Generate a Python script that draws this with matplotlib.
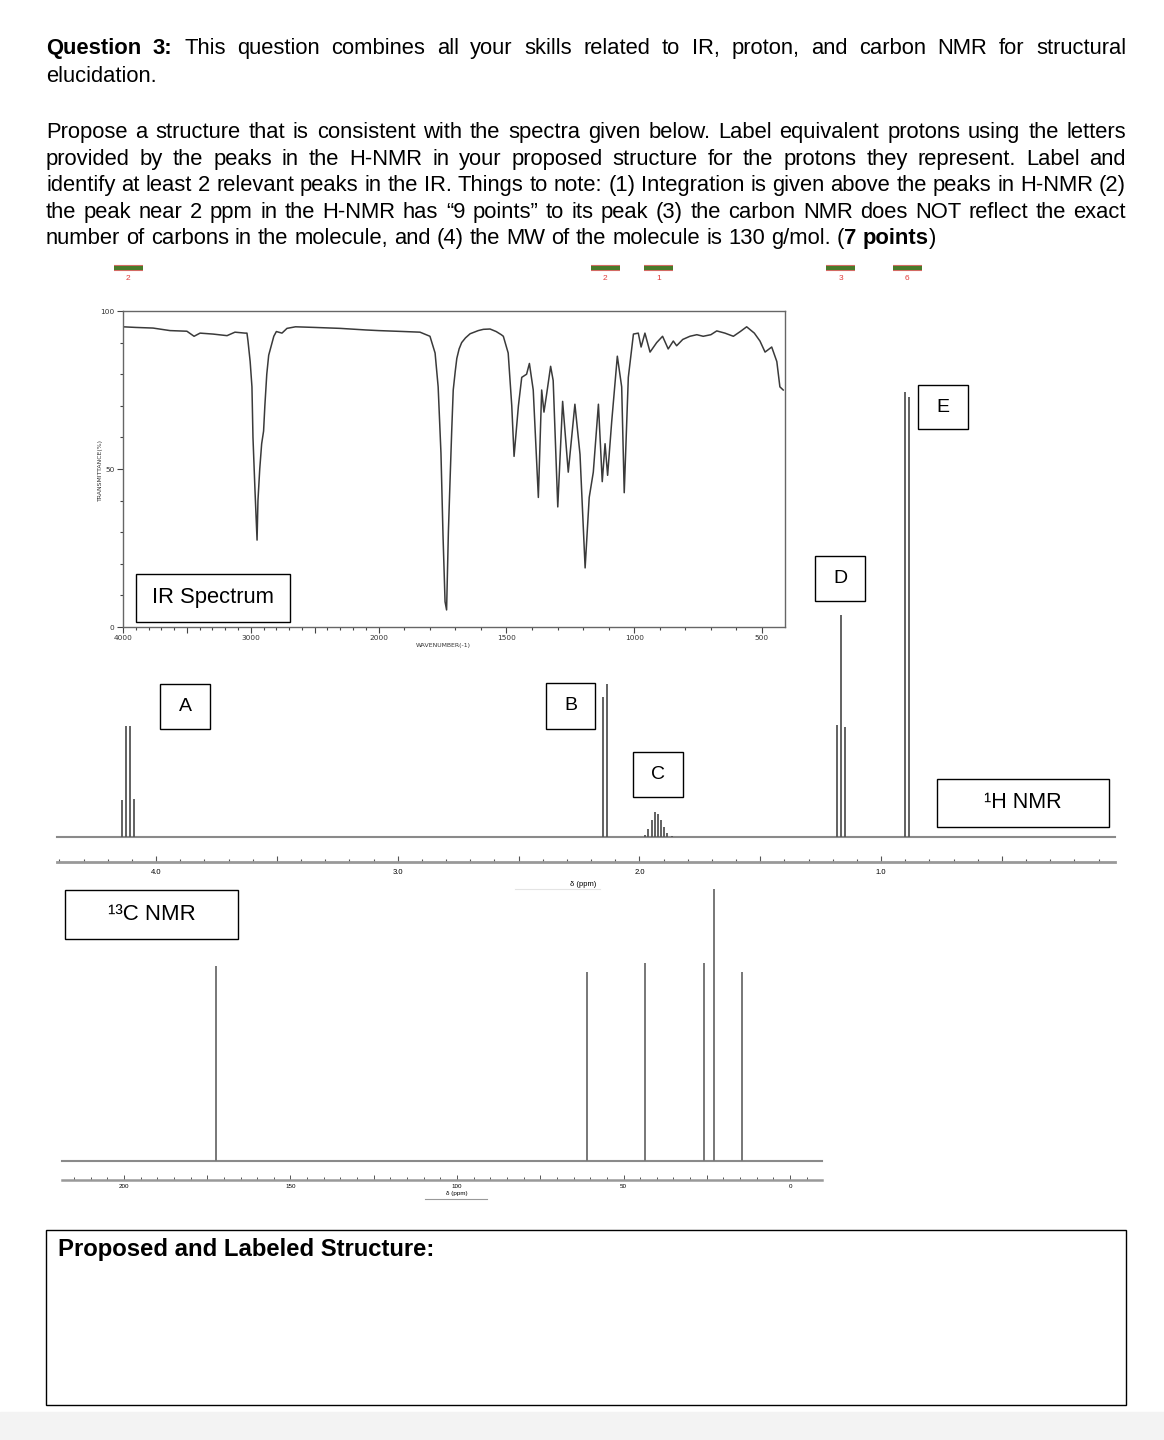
import numpy as np
import matplotlib
matplotlib.use('Agg')
import matplotlib.pyplot as plt
import matplotlib.transforms as mtransforms
import matplotlib.patheffects as pe
from matplotlib.patches import Rectangle
from matplotlib.ticker import FixedLocator, MultipleLocator, FuncFormatter

plt.rcParams['font.family'] = ['Liberation Sans', 'DejaVu Sans']

# IR spectrum: wavenumber (cm-1) and transmittance (%)
ir_wavenumber = [4000, 3900, 3765, 3632, 3500, 3444, 3397, 3296, 3186, 3124, 3045, 3030, 3022,
                 3005, 2991, 2983, 2967, 2951, 2944, 2930, 2915, 2900, 2890, 2875, 2860, 2840,
                 2820, 2800, 2756, 2717, 2650, 2500, 2300, 2100, 2000, 1900, 1838, 1799, 1779,
                 1767, 1756, 1748, 1740, 1734, 1727, 1721, 1714, 1708, 1700, 1694, 1685, 1675,
                 1660, 1642, 1610, 1590, 1564, 1540, 1520, 1512, 1493, 1479, 1470, 1453, 1440,
                 1421, 1410, 1395, 1375, 1362, 1353, 1342, 1327, 1317, 1299, 1280, 1258, 1232,
                 1212, 1192, 1176, 1160, 1140, 1125, 1114, 1104, 1088, 1066, 1049, 1039, 1023,
                 1003, 984, 973, 958, 938, 912, 889, 867, 847, 834, 810, 782, 755, 730, 700,
                 677, 645, 612, 585, 560, 530, 508, 488, 462, 442, 430, 417]
ir_transmittance = [95, 94.8, 94.6, 93.8, 93.6, 92, 93, 92.7, 92.2, 93.3, 93, 93, 90.5,
                    84, 76, 60, 43, 27.5, 40, 50, 58, 62, 70, 80, 86, 89,
                    92, 93.5, 93, 94.5, 95, 94.8, 94.5, 94, 93.8, 93.5, 93.3, 92, 86.7,
                    76, 55, 29, 8, 5.4, 30, 45, 62, 75, 81, 85, 88, 90,
                    91.5, 92.8, 93.8, 94.2, 94.3, 93.5, 92.5, 92, 86.7, 70, 54, 70, 79,
                    80, 83.4, 75, 41, 75, 68, 74, 82.5, 78, 38, 71.4, 49, 70.5,
                    54.6, 18.7, 41, 49, 70.5, 46, 58, 48, 65, 85.7, 76, 42.5, 79,
                    92.7, 93, 88.6, 93, 87, 90, 92, 88, 90.5, 89, 91, 92, 92.5, 92, 92.5,
                    93.7, 93, 92, 93.5, 95, 93, 90.5, 87, 88.6, 84, 76, 75]

# 1H NMR: letters, integrations, line positions (ppm) and line heights
h_labels = ['A', 'B', 'C', 'D', 'E']
h_integration = [2, 2, 1, 3, 6]
h_lines_ppm = [
    [4.142, 4.124, 4.108, 4.090],
    [2.149, 2.133],
    [1.977, 1.963, 1.949, 1.935, 1.924, 1.910, 1.898, 1.884, 1.866],
    [1.183, 1.166, 1.149],
    [0.901, 0.884],
]
h_lines_height = [
    [37, 111, 111, 38],
    [140, 153],
    [2, 8, 17, 25, 23, 17, 10, 4, 1],
    [112, 222, 110],
    [445, 440],
]

# 13C NMR peaks
c_ppm = [172.4, 61.0, 43.5, 25.8, 22.8, 14.4]
c_height = [195, 189, 198, 198, 272, 189]

W, H = 1164, 1440
fig = plt.figure(figsize=(W / 100, H / 100), dpi=100)
fig.patch.set_facecolor('white')
# pixel coordinates, origin at top left
pxT = mtransforms.Affine2D().scale(1 / W, -1 / H).translate(0, 1) + fig.transFigure
renderer = fig.canvas.get_renderer()


def px_axes(x0, y0, x1, y1):
    return fig.add_axes([x0 / W, 1 - y1 / H, (x1 - x0) / W, (y1 - y0) / H])


def px_box(x0, y0, x1, y1, label=None, size=14):
    fig.add_artist(Rectangle((x0, y0), x1 - x0, y1 - y0, transform=pxT, facecolor='white',
                             edgecolor='black', lw=1.0, zorder=5))
    if label:
        fig.text((x0 + x1) / 2, (y0 + y1) / 2, label, transform=pxT, fontsize=size,
                 ha='center', va='center', zorder=6)


# ---------------- question text ----------------
BODY = 15.85
TEXT_L, TEXT_R = 46, 1126


def text_width(s, size, weight):
    t = fig.text(0, 0, s, fontsize=size, fontweight=weight)
    w = t.get_window_extent(renderer).width
    t.remove()
    return w


space_w = text_width('a a', BODY, 'normal') - text_width('aa', BODY, 'normal')


def words(s, bold=False):
    return [(w, bold, False) for w in s.split()]


def put_line(tokens, y, justify=True):
    widths = [text_width(t, BODY, 'bold' if b else 'normal') for t, b, g in tokens]
    n_gaps = sum(1 for i, tok in enumerate(tokens) if i > 0 and not tok[2])
    gap = (TEXT_R - TEXT_L - sum(widths)) / n_gaps if (justify and n_gaps) else space_w
    x = TEXT_L
    for i, ((t, b, g), w) in enumerate(zip(tokens, widths)):
        if i > 0 and not g:
            x += gap
        fig.text(x, y, t, transform=pxT, fontsize=BODY, fontweight='bold' if b else 'normal',
                 ha='left', va='baseline')
        x += w


put_line(words('Question 3:', True) + words('This question combines all your skills related to '
                                              'IR, proton, and carbon NMR for structural'), 54)
put_line(words('elucidation.'), 82, justify=False)
put_line(words('Propose a structure that is consistent with the spectra given below. Label '
               'equivalent protons using the letters'), 138)
put_line(words('provided by the peaks in the H-NMR in your proposed structure for the protons '
               'they represent. Label and'), 165)
put_line(words('identify at least 2 relevant peaks in the IR. Things to note: (1) Integration '
               'is given above the peaks in H-NMR (2)'), 191)
put_line(words('the peak near 2 ppm in the H-NMR has \u201c9 points\u201d to its peak (3) the '
               'carbon NMR does NOT reflect the exact'), 218)
put_line(words('number of carbons in the molecule, and (4) the MW of the molecule is 130 g/mol.')
         + [('(', False, False), ('7', True, True), ('points', True, False), (')', False, True)],
         244, justify=False)

# ---------------- IR spectrum ----------------
def ir_fwd(x):
    x = np.asarray(x, float)
    return np.where(x > 2000, 2000 + (x - 2000) / 2, x)


def ir_inv(y):
    y = np.asarray(y, float)
    return np.where(y > 2000, 2000 + (y - 2000) * 2, y)


ax_ir = px_axes(123, 311, 785, 627)
ax_ir.set_xscale('function', functions=(ir_fwd, ir_inv))
ax_ir.plot(ir_wavenumber, ir_transmittance, color='#3a3a3a', lw=1.1)
ax_ir.set_xlim(4000, 410)
ax_ir.set_ylim(0, 100)
ax_ir.set_xticks([4000, 3500, 3000, 2500, 2000, 1500, 1000, 500])
ax_ir.set_xticklabels(['4000', '', '3000', '', '2000', '1500', '1000', '500'])
ax_ir.xaxis.set_minor_locator(FixedLocator(np.arange(500, 4000, 100)))
ax_ir.set_yticks([0, 50, 100])
ax_ir.set_yticklabels(['0', '50', '100'])
ax_ir.yaxis.set_minor_locator(MultipleLocator(10))
ax_ir.tick_params(which='both', direction='out', color='#444', width=0.8,
                  labelsize=5.3, labelcolor='#333', pad=2)
ax_ir.tick_params(which='major', length=4)
ax_ir.tick_params(which='minor', length=2.5)
for lab in ax_ir.get_xticklabels() + ax_ir.get_yticklabels():
    lab.set_family('DejaVu Sans')
for sp in ax_ir.spines.values():
    sp.set_color('#666')
    sp.set_linewidth(1.0)
fig.text(100, 470, 'TRANSMITTANCE(%)', transform=pxT, rotation=90, fontsize=4.4,
         ha='center', va='center', family='DejaVu Sans', color='#333')
fig.text(443, 646, 'WAVENUMBER(-1)', transform=pxT, fontsize=4.4, ha='center', va='center',
         family='DejaVu Sans', color='#333')

# ---------------- 1H NMR ----------------
ax_h = px_axes(57, 380, 1115, 840)
ax_h.set_xlim(4.410, 0.032)
ax_h.set_ylim(-3, 457)
ax_h.axhline(0, color='#8a8a8a', lw=1.5, clip_on=False)
for ppm, hts in zip(h_lines_ppm, h_lines_height):
    ax_h.vlines(ppm, 0, hts, color='#555', lw=1.3)
for s in ['top', 'left', 'right']:
    ax_h.spines[s].set_visible(False)
ax_h.set_yticks([])
ax_h.spines['bottom'].set_position(('outward', 15.8))
ax_h.spines['bottom'].set_color('#999')
ax_h.spines['bottom'].set_linewidth(2)
ax_h.xaxis.set_major_locator(MultipleLocator(0.5))
ax_h.xaxis.set_minor_locator(MultipleLocator(0.1))
ax_h.xaxis.set_major_formatter(FuncFormatter(
    lambda v, p: f'{v:.1f}' if abs(v - round(v)) < 1e-6 else ''))
ax_h.tick_params(which='both', direction='in', color='#555', width=0.8, labelsize=5.5, pad=5)
ax_h.tick_params(which='major', length=4)
ax_h.tick_params(which='minor', length=2.5)
ax_h.patch.set_alpha(0)
fig.text(583, 884, '\u03b4 (ppm)', transform=pxT, fontsize=5.5, ha='center', va='center')
fig.add_artist(plt.Line2D([515, 600], [889, 889], transform=pxT, color='#e4e4e4', lw=0.8))

# integration marks above the 1H multiplets
hx = mtransforms.blended_transform_factory(ax_h.transData, pxT)
for ppm, n in zip(h_lines_ppm, h_integration):
    c = (ppm[0] + ppm[-1]) / 2
    ax_h.plot([c + 0.06, c - 0.06], [268, 268], transform=hx, clip_on=False, color='#4a7a2a',
              lw=3.0, solid_capstyle='butt',
              path_effects=[pe.Stroke(linewidth=4.4, foreground='#e06a6a'), pe.Normal()])
    ax_h.text(c, 279, str(n), transform=hx, fontsize=6, color='#e03a3a',
              ha='center', va='center', clip_on=False)

# ---------------- 13C NMR ----------------
ax_c = px_axes(62, 880, 822, 1164)
ax_c.set_xlim(218.6, -9.6)
ax_c.set_ylim(-3, 281)
ax_c.axhline(0, color='#8a8a8a', lw=1.5, clip_on=False)
ax_c.vlines(c_ppm, 0, c_height, color='#777', lw=1.4)
for s in ['top', 'left', 'right']:
    ax_c.spines[s].set_visible(False)
ax_c.set_yticks([])
ax_c.spines['bottom'].set_position(('outward', 11.5))
ax_c.spines['bottom'].set_color('#999')
ax_c.spines['bottom'].set_linewidth(1.8)
ax_c.xaxis.set_major_locator(MultipleLocator(25))
ax_c.xaxis.set_minor_locator(MultipleLocator(5))
ax_c.xaxis.set_major_formatter(FuncFormatter(
    lambda v, p: f'{v:.0f}' if abs(v % 50) < 1e-6 else ''))
ax_c.tick_params(which='both', direction='in', color='#555', width=0.7, labelsize=4.5, pad=3)
ax_c.tick_params(which='major', length=3.5)
ax_c.tick_params(which='minor', length=2)
ax_c.patch.set_alpha(0)
fig.text(457, 1194, '\u03b4 (ppm)', transform=pxT, fontsize=4.5, ha='center', va='center')
fig.add_artist(plt.Line2D([425, 487], [1199, 1199], transform=pxT, color='#999', lw=0.8))

# ---------------- label boxes ----------------
px_box(136, 574, 290, 622, 'IR Spectrum', 15.8)
px_box(160, 684, 210, 729, 'A', 14)
px_box(546, 683, 595, 729, 'B', 14)
px_box(633, 752, 683, 797, 'C', 14)
px_box(815, 556, 865, 601, 'D', 14)
px_box(918, 385, 968, 429, 'E', 14)
px_box(937, 779, 1109, 827, '\u00b9H NMR', 15.5)
px_box(65, 890, 238, 939, '\u00b9\u00b3C NMR', 16)

px_box(46, 1230, 1126, 1405)
fig.text(58, 1256, 'Proposed and Labeled Structure:', transform=pxT, fontsize=17.2,
         fontweight='bold', ha='left', va='baseline', zorder=6)

fig.add_artist(Rectangle((0, 1412), W, 28, transform=pxT, color='#f3f3f3', zorder=0))

fig.savefig('out.png', dpi=100, facecolor='white')
